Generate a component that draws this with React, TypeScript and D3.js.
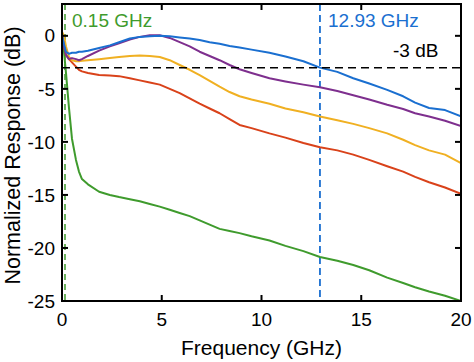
import React from "react";
import * as d3 from "d3";

const freq = [0, 0.1, 0.2, 0.35, 0.5, 0.7, 0.85, 1.0, 1.3, 1.86, 2.4, 2.86, 3.4, 3.9, 4.4, 4.9, 5.4, 5.9, 6.4, 6.9, 7.4, 7.9, 8.4, 8.9, 9.5, 10.4, 11.2, 12.1, 12.93, 13.8, 14.6, 15.4, 16.3, 17.1, 17.7, 18.4, 19.2, 20];

const blueVals = [0, -0.8, -1.5, -1.7, -1.6, -1.6, -1.5, -1.5, -1.4, -1.15, -0.9, -0.6, -0.25, -0.1, -0.05, 0, -0.05, -0.15, -0.25, -0.4, -0.6, -0.75, -0.95, -1.1, -1.3, -1.6, -1.95, -2.4, -3.0, -3.4, -4.0, -4.5, -5.1, -5.7, -6.3, -6.8, -7.0, -7.6];
const purpleVals = [0.2, -1.0, -1.8, -2.2, -2.1, -2.2, -2.3, -2.2, -1.9, -1.4, -1.0, -0.7, -0.35, -0.1, 0.05, 0.05, -0.2, -0.6, -1.0, -1.5, -1.9, -2.3, -2.75, -3.15, -3.5, -4.0, -4.3, -4.6, -4.85, -5.2, -5.6, -6.0, -6.5, -6.9, -7.3, -7.6, -8.0, -8.5];
const orangeVals = [0.4, 0.0, -1.0, -2.0, -2.3, -2.4, -2.4, -2.35, -2.3, -2.2, -2.1, -2.0, -1.9, -1.85, -1.9, -2.0, -2.3, -2.75, -3.2, -3.7, -4.25, -4.8, -5.3, -5.7, -6.0, -6.4, -6.85, -7.2, -7.6, -7.95, -8.3, -8.7, -9.2, -9.8, -10.3, -10.8, -11.2, -12.0];
const redVals = [0.2, -1.0, -1.8, -2.2, -2.5, -2.9, -3.2, -3.35, -3.5, -3.7, -3.75, -3.8, -4.0, -4.2, -4.4, -4.6, -5.0, -5.4, -5.9, -6.4, -6.85, -7.3, -7.85, -8.4, -8.7, -9.2, -9.6, -10.1, -10.5, -10.8, -11.2, -11.7, -12.3, -12.8, -13.3, -13.8, -14.3, -14.9];
const greenVals = [0, -1.5, -3.5, -6.8, -9.7, -11.7, -12.8, -13.5, -14.0, -14.7, -15.0, -15.2, -15.4, -15.6, -15.85, -16.1, -16.4, -16.7, -17.0, -17.4, -17.8, -18.2, -18.4, -18.6, -18.9, -19.3, -19.8, -20.3, -20.85, -21.2, -21.6, -22.1, -22.8, -23.3, -23.7, -24.1, -24.5, -25.0];

const seriesNames = ["green", "red", "orange", "purple", "blue"];
const seriesValues = [greenVals, redVals, orangeVals, purpleVals, blueVals];
const seriesColors = ["#3f9b2d", "#d9421a", "#f0b022", "#7e2f8e", "#1a6fd0"];

const xTicks = [0, 5, 10, 15, 20];
const yTicks = [-25, -20, -15, -10, -5, 0];
const xDomain = [0, 20];
const yDomain = [-25, 3];

const markerLow = 0.15;
const markerHigh = 12.93;
const threshold = -3;

const W = 474;
const H = 362;
const M = { left: 62, right: 461, top: 4, bottom: 301 };
const FONT = "Liberation Sans, Arial, sans-serif";

export default function App() {
  const x = d3.scaleLinear().domain(xDomain).range([M.left, M.right]);
  const y = d3.scaleLinear().domain(yDomain).range([M.bottom, M.top]);
  const line = d3
    .line<[number, number]>()
    .x((d) => x(d[0]))
    .y((d) => y(d[1]));
  const tickLen = 6;

  return (
    <svg
      width={W}
      height={H}
      style={{ position: "absolute", left: 0, top: 0, background: "#fff" }}
      fontFamily={FONT}
    >
      <defs>
        <clipPath id="plotclip">
          <rect x={M.left} y={M.top} width={M.right - M.left} height={M.bottom - M.top} />
        </clipPath>
      </defs>

      {/* reference lines */}
      <line x1={x(markerLow)} x2={x(markerLow)} y1={M.top} y2={M.bottom} stroke="#3f9b2d" strokeWidth={1.5} strokeDasharray="6,4" />
      <line x1={x(markerHigh)} x2={x(markerHigh)} y1={M.top} y2={M.bottom} stroke="#1a6fd0" strokeWidth={1.8} strokeDasharray="7,4" />

      {/* curves */}
      <g clipPath="url(#plotclip)">
        {seriesValues.map((vals, i) => (
          <path
            key={seriesNames[i]}
            d={line(freq.map((f, j) => [f, vals[j]] as [number, number])) || ""}
            fill="none"
            stroke={seriesColors[i]}
            strokeWidth={2}
            strokeLinejoin="round"
          />
        ))}
      </g>

      <line x1={M.left} x2={M.right} y1={y(threshold)} y2={y(threshold)} stroke="#000" strokeWidth={1.5} strokeDasharray="8,5" />

      {/* frame */}
      <rect x={M.left} y={M.top} width={M.right - M.left} height={M.bottom - M.top} fill="none" stroke="#000" strokeWidth={2} />

      {/* x ticks */}
      {xTicks.map((t) => (
        <g key={"x" + t}>
          <line x1={x(t)} x2={x(t)} y1={M.bottom} y2={M.bottom - tickLen} stroke="#000" strokeWidth={2} />
          <line x1={x(t)} x2={x(t)} y1={M.top} y2={M.top + tickLen} stroke="#000" strokeWidth={2} />
          <text x={x(t)} y={326} textAnchor="middle" fontSize={19} fill="#000">
            {t}
          </text>
        </g>
      ))}

      {/* y ticks */}
      {yTicks.map((t) => (
        <g key={"y" + t}>
          <line x1={M.left} x2={M.left + tickLen} y1={y(t)} y2={y(t)} stroke="#000" strokeWidth={2} />
          <line x1={M.right} x2={M.right - tickLen} y1={y(t)} y2={y(t)} stroke="#000" strokeWidth={2} />
          <text x={55} y={y(t)} dy="0.35em" textAnchor="end" fontSize={19} fill="#000">
            {t}
          </text>
        </g>
      ))}

      {/* annotations */}
      <text x={72} y={27} fontSize={19} fill="#3f9b2d">
        {markerLow} GHz
      </text>
      <text x={328} y={27} fontSize={19} fill="#1a6fd0">
        {markerHigh} GHz
      </text>
      <text x={393} y={57} fontSize={19} fill="#000">
        {threshold} dB
      </text>

      {/* axis titles */}
      <text x={(M.left + M.right) / 2} y={355} textAnchor="middle" fontSize={21} fill="#000">
        Frequency (GHz)
      </text>
      <text
        transform={`translate(20, ${(M.top + M.bottom) / 2 + 3}) rotate(-90)`}
        textAnchor="middle"
        fontSize={21.5}
        fill="#000"
      >
        Normalized Response (dB)
      </text>
    </svg>
  );
}
